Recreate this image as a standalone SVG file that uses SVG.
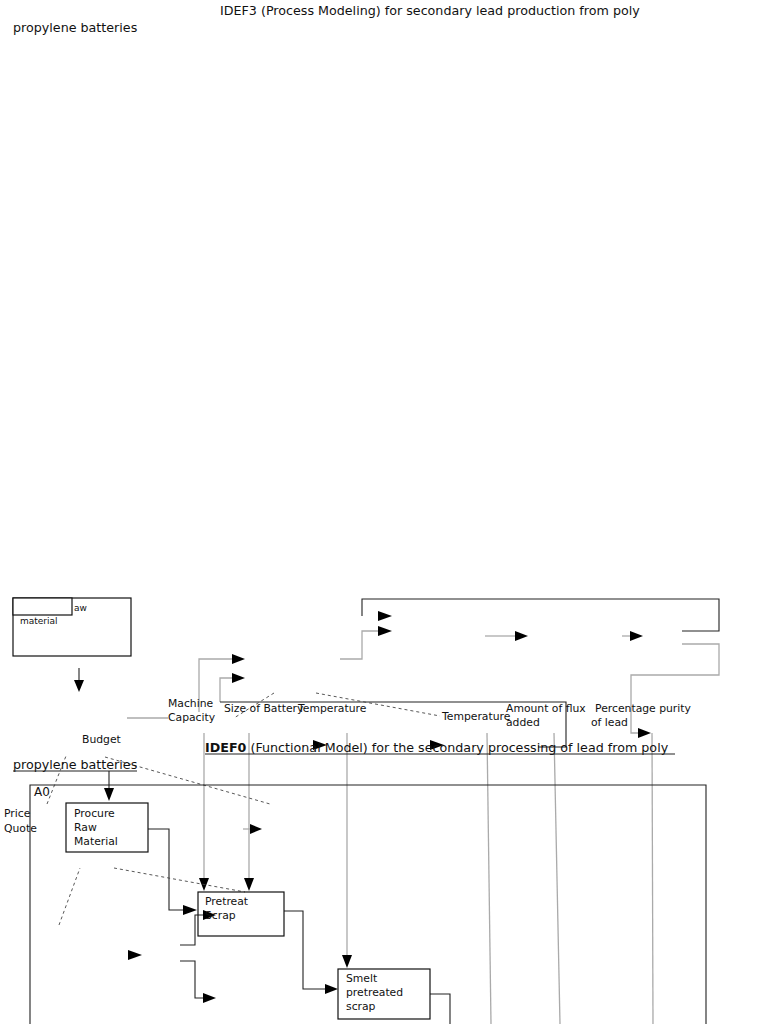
<svg xmlns="http://www.w3.org/2000/svg" width="768" height="1024" viewBox="0 0 768 1024">
<style>
text{font-family:"DejaVu Sans","Liberation Sans",sans-serif;font-size:10.8px;fill:#111}
.t{font-size:12.7px}
.b{fill:#fff;stroke:#111;stroke-width:1.2}
.l{fill:none;stroke:#222;stroke-width:1.1}
.g{fill:none;stroke:#aaa;stroke-width:1.3}
.d{fill:none;stroke:#444;stroke-width:0.9;stroke-dasharray:3,3}
.h{fill:#000}
</style>
<rect width="768" height="1024" fill="#fff"/>
<text class="t" x="220" y="15">IDEF3 (Process Modeling) for secondary lead production from poly</text>
<text class="t" x="13" y="32">propylene batteries</text>
<g id="connectors">
<path class="l" d="M79 668V680"/><polygon class="h" points="74,680 84,680 79,692"/>
<path class="g" d="M199 712V659H232"/><polygon class="h" points="232,654 245,659 232,664"/>
<path class="g" d="M220 702V678H232"/><polygon class="h" points="232,673 245,678 232,683"/>
<path class="l" d="M220 702H566V747H538"/>
<path class="g" d="M127 718H168"/>
<path class="l" d="M362 616V599H719V631H682"/><polygon class="h" points="378,611 392,616 378,621"/>
<path class="g" d="M340 659H362V631H378"/><polygon class="h" points="378,626 392,631 378,636"/>
<path class="g" d="M485 636H515"/><polygon class="h" points="515,631 528,636 515,641"/>
<path class="g" d="M622 636H630"/><polygon class="h" points="630,631 643,636 630,641"/>
<path class="g" d="M682 644H719V675H631V733H638"/><polygon class="h" points="638,728 651,733 638,738"/>
<path class="d" d="M274 693L234 718"/>
<path class="d" d="M316 693L440 716"/>
<polygon class="h" points="313,740 327,745 313,750"/>
<polygon class="h" points="430,740 444,745 430,750"/>
<path class="g" d="M204 733V878"/><polygon class="h" points="199,878 209,878 204,891"/>
<path class="g" d="M249 733V878"/><polygon class="h" points="244,878 254,878 249,891"/>
<path class="g" d="M347 733V955"/><polygon class="h" points="342,955 352,955 347,968"/>
<path class="g" d="M487 733L491 1024"/>
<path class="g" d="M554 733L560 1024"/>
<path class="g" d="M652 733L653 1024"/>
<path class="l" d="M109 771V788"/><polygon class="h" points="104,788 114,788 109,801"/>
<path class="g" d="M127 829H135"/><polygon class="h" points="135,824 148,829 135,834"/>
<path class="l" d="M148 829H169V910H183"/><polygon class="h" points="183,905 197,910 183,915"/>
<path class="g" d="M243 829H250"/><polygon class="h" points="250,824 262,829 250,834"/>
<path class="l" d="M180 945H195V915H203"/><polygon class="h" points="203,910 216,915 203,920"/>
<path class="l" d="M180 961H195V998H203"/><polygon class="h" points="203,993 216,998 203,1003"/>
<polygon class="h" points="128,950 142,955 128,960"/>
<path class="l" d="M284 911H303V989H325"/><polygon class="h" points="325,984 338,989 325,994"/>
<path class="l" d="M430 994H450V1024"/>
<path class="d" d="M47 804L66 756"/>
<path class="d" d="M59 925L80 868"/>
<path class="d" d="M114 868L245 892"/>
<path class="d" d="M105 757L270 804"/>
</g>
<g id="raw">
<rect class="b" x="13" y="598" width="118" height="58"/>
<rect class="b" x="13" y="598" width="59" height="17"/>
<text x="74" y="611" style="font-size:9px">aw</text>
<text x="20" y="624" style="font-size:9px">material</text>
</g>
<g id="labels">
<text x="168" y="707">Machine</text><text x="168" y="721">Capacity</text>
<text x="224" y="712">Size of Battery</text>
<text x="298" y="712">Temperature</text>
<text x="442" y="720">Temperature</text>
<text x="506" y="712">Amount of flux</text><text x="506" y="726">added</text>
<text x="595" y="712">Percentage purity</text><text x="591" y="726">of lead</text>
<text x="82" y="743">Budget</text>
<text x="4" y="817">Price</text><text x="4" y="832">Quote</text>
</g>
<text class="t" x="205" y="752"><tspan font-weight="bold">IDEF0</tspan> (Functional Model) for the secondary processing of lead from poly</text>
<path class="l" d="M205 754H675"/>
<text class="t" x="13" y="769">propylene batteries</text>
<path class="l" d="M13 771H137"/>
<g id="A0">
<path class="l" d="M30 1024V785H706V1024"/>
<text x="34" y="796" style="font-size:12px">A0</text>
</g>
<g id="procure">
<rect class="b" x="66" y="803" width="82" height="49"/>
<text x="74" y="817">Procure</text><text x="74" y="831">Raw</text><text x="74" y="845">Material</text>
</g>
<g id="pretreat">
<rect class="b" x="198" y="892" width="86" height="44" fill-opacity="0"/>
<text x="205" y="905">Pretreat</text><text x="205" y="919">Scrap</text>
</g>
<g id="smelt">
<rect class="b" x="338" y="969" width="92" height="50"/>
<text x="346" y="982">Smelt</text><text x="346" y="996">pretreated</text><text x="346" y="1010">scrap</text>
</g>
</svg>
